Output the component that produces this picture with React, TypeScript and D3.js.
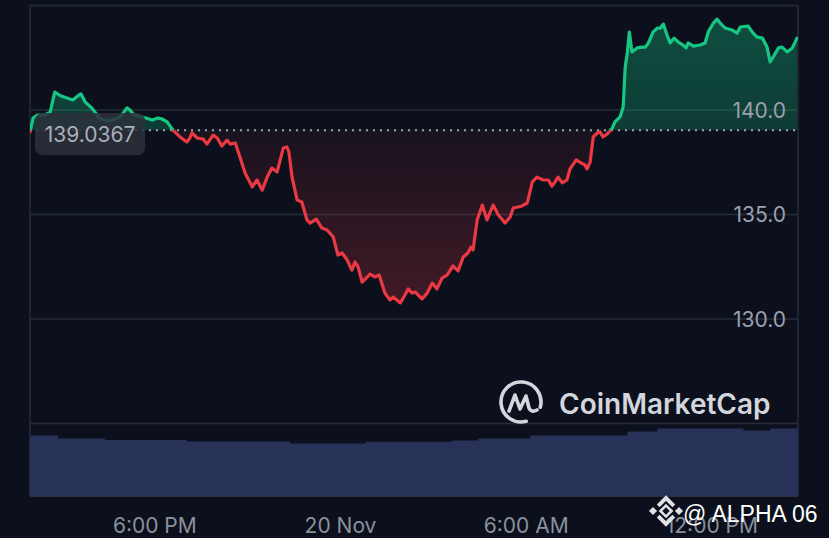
import React from 'react';
import * as d3 from 'd3';

const W = 829;
const H = 538;

// chart start: 19 Nov, 13:58 local time
const START = new Date(2024, 10, 19, 13, 58);
const END_MINUTES = 1489;

const minutesFromStart = [
  0, 6, 14, 29, 39, 48, 60, 72, 83, 95, 99, 107, 118, 126, 136, 155, 175, 188, 194, 200,
  209, 225, 237, 248, 256, 266, 277, 291, 304, 310, 314, 324, 336, 343, 355, 363, 372, 382, 388, 398,
  407, 417, 431, 440, 450, 460, 469, 479, 491, 498, 502, 508, 518, 527, 537, 543, 555, 566, 576, 588,
  597, 605, 615, 624, 630, 636, 644, 654, 659, 669, 677, 688, 698, 704, 718, 727, 733, 741, 747, 760,
  770, 780, 789, 799, 809, 820, 830, 840, 849, 855, 859, 867, 877, 886, 898, 908, 921, 931, 937, 946,
  954, 964, 974, 983, 995, 1005, 1012, 1018, 1024, 1032, 1041, 1047, 1059, 1069, 1076, 1080, 1086, 1092, 1100, 1105,
  1111, 1119, 1129, 1134, 1144, 1150, 1154, 1158, 1162, 1167, 1177, 1187, 1193, 1199, 1208, 1216, 1222, 1228, 1235, 1241,
  1249, 1257, 1266, 1272, 1276, 1286, 1299, 1309, 1315, 1325, 1332, 1338, 1348, 1361, 1371, 1377, 1392, 1402, 1410, 1420,
  1429, 1435, 1441, 1451, 1458, 1468, 1478, 1487,
];

const prices = [
  138.95, 139.62, 139.76, 139.76, 139.9, 140.86, 140.67, 140.57, 140.48, 140.72, 140.77, 140.38, 140.14, 139.9, 139.57, 139.47, 139.67, 140.1, 140.0, 139.81,
  139.71, 139.62, 139.52, 139.62, 139.57, 139.43, 139.04, 138.71, 138.47, 138.66, 138.9, 138.66, 138.61, 138.37, 138.8, 138.66, 138.28, 138.56, 138.37, 138.42,
  137.75, 136.99, 136.32, 136.65, 136.17, 136.79, 137.22, 137.03, 138.18, 138.23, 137.99, 136.79, 135.69, 135.6, 134.74, 134.59, 134.78, 134.35, 134.26, 133.92,
  133.06, 133.16, 132.82, 132.34, 132.73, 132.49, 131.77, 132.01, 132.15, 132.01, 132.11, 131.24, 130.91, 131.05, 130.77, 131.15, 131.44, 131.24, 131.29, 130.96,
  131.24, 131.72, 131.44, 131.96, 132.11, 132.54, 132.3, 132.97, 133.16, 133.44, 133.3, 134.74, 135.45, 134.74, 135.45, 134.98, 134.59, 134.88, 135.31, 135.36,
  135.41, 135.55, 136.56, 136.79, 136.65, 136.65, 136.36, 136.56, 136.79, 136.51, 136.65, 137.18, 137.61, 137.46, 137.37, 137.18, 137.51, 138.71, 138.9, 138.95,
  138.71, 138.85, 139.14, 139.43, 139.67, 140.14, 142.06, 142.73, 143.73, 142.78, 142.97, 143.01, 143.01, 143.21, 143.73, 143.92, 143.92, 144.11, 143.59, 143.21,
  143.44, 143.25, 143.11, 142.97, 143.21, 143.06, 143.11, 143.21, 143.73, 144.16, 144.35, 144.16, 143.92, 143.83, 143.68, 143.97, 144.02, 143.68, 143.49, 143.44,
  143.01, 142.3, 142.54, 142.97, 143.01, 142.78, 142.97, 143.44,
];

const REF_PRICE = 139.0367;
const REF_LABEL = '139.0367';
const yTicks = [130, 135, 140];

// rolling volume, stepped segments (minutes from start)
const volumeSegStart = [0, 54, 145, 304, 504, 650, 818, 869, 970, 1158, 1216, 1383, 1435];
const volumeSegEnd = [54, 145, 304, 504, 650, 818, 869, 970, 1158, 1216, 1383, 1435, 1489];
const volumes = [83.6, 79.5, 77.4, 75.3, 72.6, 75.0, 76.7, 79.5, 83.6, 89.0, 93.2, 90.4, 93.2];

const BG = '#0b101c';
const GRID = '#262c38';
const GREEN = '#16c784';
const RED = '#ea3943';

const at = (m: number) => new Date(START.getTime() + m * 60000);

export default function App() {
  const left = 30;
  const right = 798;
  const top = 5.5;
  const priceBottom = 423.5;
  const volBottom = 496.5;

  const x = d3.scaleTime().domain([at(0), at(END_MINUTES)]).range([left, right]);
  const y = d3.scaleLinear().domain([125, 145]).range([priceBottom, top]);
  const yVol = d3.scaleLinear().domain([0, 100]).range([volBottom, priceBottom]);

  const data = minutesFromStart.map((m, i) => ({ t: at(m), p: prices[i] }));
  const refY = y(REF_PRICE);

  const line = d3
    .line<{ t: Date; p: number }>()
    .x((d) => x(d.t))
    .y((d) => y(d.p));
  const area = d3
    .area<{ t: Date; p: number }>()
    .x((d) => x(d.t))
    .y0(refY)
    .y1((d) => y(d.p));

  const volData = volumes.map((v, i) => ({ t: at(volumeSegStart[i]), v }));
  volData.push({ t: at(volumeSegEnd[volumeSegEnd.length - 1]), v: volumes[volumes.length - 1] });
  const volArea = d3
    .area<{ t: Date; v: number }>()
    .x((d) => x(d.t))
    .y0(volBottom)
    .y1((d) => yVol(d.v))
    .curve(d3.curveStepAfter);

  const xTicks = x.ticks(d3.timeHour.every(6) as any);
  const fmtTime = d3.timeFormat('%-I:%M %p');
  const fmtDay = d3.timeFormat('%-d %b');
  const xLabel = (d: Date) => (d.getHours() === 0 ? fmtDay(d) : fmtTime(d));

  const linePath = line(data) || '';
  const areaPath = area(data) || '';

  return (
    <svg
      width={W}
      height={H}
      style={{ position: 'fixed', left: 0, top: 0, display: 'block' }}
      fontFamily="Inter, 'Noto Sans', sans-serif"
    >
      <defs>
        <clipPath id="above">
          <rect x={left} y={0} width={right - left} height={refY} />
        </clipPath>
        <clipPath id="below">
          <rect x={left} y={refY} width={right - left} height={priceBottom - refY} />
        </clipPath>
        <linearGradient id="gGreen" gradientUnits="userSpaceOnUse" x1={0} x2={0} y1={y(144.5)} y2={refY}>
          <stop offset="0" stopColor={GREEN} stopOpacity={0.34} />
          <stop offset="1" stopColor={GREEN} stopOpacity={0.24} />
        </linearGradient>
        <linearGradient id="gRed" gradientUnits="userSpaceOnUse" x1={0} x2={0} y1={refY} y2={y(130.7)}>
          <stop offset="0" stopColor={RED} stopOpacity={0.06} />
          <stop offset="1" stopColor={RED} stopOpacity={0.24} />
        </linearGradient>
      </defs>

      <rect x={0} y={0} width={W} height={H} fill={BG} />

      {/* grid lines */}
      {yTicks.map((v) => (
        <line key={v} x1={left} x2={right} y1={y(v)} y2={y(v)} stroke={GRID} strokeWidth={1.5} />
      ))}
      <line x1={left} x2={right} y1={priceBottom} y2={priceBottom} stroke={GRID} strokeWidth={1.5} />
      <line x1={left} x2={right} y1={top} y2={top} stroke={GRID} strokeWidth={1.5} />
      <line x1={left} x2={left} y1={top} y2={volBottom} stroke={GRID} strokeWidth={1.5} />
      <line x1={right} x2={right} y1={top} y2={volBottom} stroke={GRID} strokeWidth={1.5} />

      {/* volume */}
      <path d={volArea(volData) || ''} fill="#283158" />
      <line x1={left} x2={right} y1={volBottom} y2={volBottom} stroke="#2a3040" strokeWidth={1} />

      {/* areas */}
      <path d={areaPath} fill="url(#gGreen)" clipPath="url(#above)" />
      <path d={areaPath} fill="url(#gRed)" clipPath="url(#below)" />

      {/* reference dotted line */}
      <line
        x1={left}
        x2={right}
        y1={refY}
        y2={refY}
        stroke="#b8bdc7"
        strokeWidth={2}
        strokeDasharray="2 5"
        opacity={0.85}
      />

      {/* price line */}
      <path d={linePath} fill="none" stroke={GREEN} strokeWidth={3.2} strokeLinejoin="round" strokeLinecap="round" clipPath="url(#above)" />
      <path d={linePath} fill="none" stroke={RED} strokeWidth={3.2} strokeLinejoin="round" strokeLinecap="round" clipPath="url(#below)" />

      {/* y axis labels */}
      {yTicks.map((v) => (
        <text key={v} x={786} y={y(v) + 7.5} textAnchor="end" fontSize={21} fill="#9aa1ad">
          {v.toFixed(1)}
        </text>
      ))}

      {/* reference tooltip */}
      <rect x={35} y={113} width={110} height={42} rx={7} fill="#2b303b" opacity={0.85} />
      <text x={90} y={141.5} textAnchor="middle" fontSize={21} fill="#a9aeb8">
        {REF_LABEL}
      </text>

      {/* x axis labels */}
      {xTicks.map((d, i) => (
        <text key={i} x={x(d)} y={533} textAnchor="middle" fontSize={21} fill="#8a909c">
          {xLabel(d)}
        </text>
      ))}

      {/* CoinMarketCap watermark */}
      <g transform="translate(521,402)" fill="none" stroke="#d3d6dc" strokeWidth={3.6} strokeLinecap="round" strokeLinejoin="round">
        <path d="M 5.2 19.3 A 20 20 0 1 1 19.3 5.2" />
        <path d="M -12 9 L -6 -7 L -1 7 L 5 -6 L 8 6 Q 10 11 16 8" />
      </g>
      <text x={559} y={414} fontSize={28} fontWeight={600} fill="#d3d6dc">
        CoinMarketCap
      </text>

      {/* Binance author watermark */}
      <g transform="translate(666,511) scale(1.3)" fill="#e2e2e2" stroke="#e2e2e2">
        <rect x={-3} y={-3} width={6} height={6} transform="rotate(45)" fill="none" strokeWidth={2} />
        <rect x={-2.2} y={-2.2} width={4.4} height={4.4} transform="translate(-10,0) rotate(45)" stroke="none" />
        <rect x={-2.2} y={-2.2} width={4.4} height={4.4} transform="translate(10,0) rotate(45)" stroke="none" />
        <path d="M -6 -4 L 0 -10 L 6 -4" fill="none" strokeWidth={3} />
        <path d="M -6 4 L 0 10 L 6 4" fill="none" strokeWidth={3} />
      </g>
      <text x={683} y={522} fontSize={23} fill="#ffffff" fontFamily="'Liberation Sans', Arial, sans-serif">
        @ ALPHA 06
      </text>
    </svg>
  );
}
